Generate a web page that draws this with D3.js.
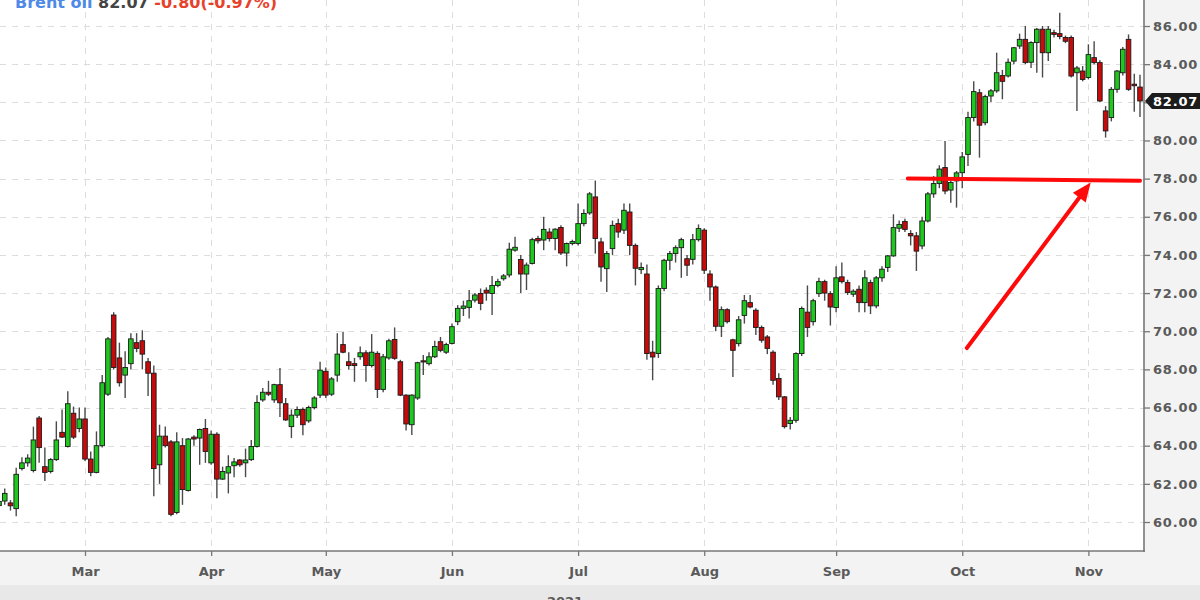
<!DOCTYPE html>
<html>
<head>
<meta charset="utf-8">
<script src="https://cdn.jsdelivr.net/npm/d3@7/dist/d3.min.js"></script>
<style>
  html, body { margin: 0; padding: 0; background: #f3f3f3; }
  svg { display: block; }
  text { font-family: "DejaVu Sans", Verdana, sans-serif; }
</style>
</head>
<body>
<svg id="chart" width="1200" height="600"></svg>
<script>
// ---------------- DATA ----------------
const opens = [
 60.86,61.10,61.00,60.70,62.80,63.10,62.70,65.45,62.90,62.65,63.27,64.70,63.96,65.70,64.90,
 65.40,63.30,62.60,64.00,66.70,70.85,68.60,67.70,68.30,69.40,69.50,68.40,67.80,63.00,64.50,64.20,60.50,64.00,61.65,64.45,64.40,64.90,
 63.10,64.60,62.25,62.57,62.95,63.25,63.10,63.27,63.96,66.40,66.80,66.40,67.20,66.20,65.00,65.60,65.90,65.30,66.00,66.65,
 67.90,66.70,67.70,69.30,68.40,68.30,68.66,68.87,68.20,68.84,66.95,68.60,69.57,68.40,66.65,65.10,66.50,68.45,68.30,68.66,69.45,68.90,
 69.36,70.50,71.20,71.25,71.63,71.98,72.15,71.98,72.40,72.75,72.95,74.25,73.76,73.00,73.55,74.86,74.78,75.20,74.86,75.44,74.10,74.60,
 74.60,75.64,76.20,77.04,74.68,73.28,74.33,75.64,75.30,76.25,74.50,73.23,73.00,68.90,68.83,72.24,73.72,74.07,74.38,73.80,73.77,74.80,
 75.30,73.00,72.32,70.26,71.13,69.55,69.35,70.83,71.50,71.10,70.20,69.70,68.90,67.52,66.56,65.16,65.33,68.83,71.00,70.50,71.97,72.60,71.97,
 71.24,72.85,72.55,71.94,72.20,71.50,72.55,71.33,72.80,73.34,73.95,75.40,75.75,75.12,75.00,74.47,75.78,77.20,77.74,78.58,77.40,77.88,
 78.31,79.27,81.20,82.50,80.93,82.33,82.60,83.40,83.38,84.16,84.95,85.30,84.10,85.13,85.83,84.60,85.65,85.60,85.40,85.40,83.55,83.64,
 83.30,84.34,84.08,81.55,81.20,82.68,83.55,85.30,82.95,82.80
];
const highs = [
 61.70,61.75,61.15,62.85,63.40,63.55,65.00,65.55,63.90,63.35,65.28,65.90,66.85,66.05,66.00,
 66.00,63.70,64.75,67.70,69.70,71.00,69.40,68.95,69.90,69.90,70.05,68.60,68.20,65.10,65.00,64.30,64.70,64.40,64.40,64.55,64.90,65.40,
 64.80,64.70,62.90,63.50,63.35,63.30,63.85,64.30,66.65,67.03,67.40,67.25,68.07,66.50,65.90,66.05,66.00,66.10,66.60,68.40,
 68.10,67.60,69.90,69.97,68.90,68.60,69.20,69.00,69.85,68.95,68.80,69.60,70.20,68.50,66.70,66.70,68.40,68.75,68.90,69.50,69.70,69.40,
 70.40,71.37,71.60,72.16,72.00,72.24,72.30,72.90,72.75,73.00,74.64,74.95,74.00,73.60,74.90,75.00,76.00,75.40,75.40,75.55,74.65,74.80,
 76.70,76.40,77.30,77.90,74.90,74.20,75.80,75.90,76.70,76.70,74.60,73.60,73.50,69.50,72.40,73.80,74.20,74.50,74.90,74.00,75.10,75.60,
 75.40,73.20,72.40,71.30,71.20,69.60,70.80,71.90,71.90,71.20,70.30,69.80,69.00,67.80,66.60,65.50,68.90,71.30,72.40,71.70,72.80,72.70,72.10,
 73.40,73.60,72.70,72.20,72.40,73.20,72.70,72.90,73.40,74.00,76.13,75.80,75.90,75.30,75.20,76.00,77.30,78.14,78.70,79.97,78.00,78.40,
 79.40,81.50,83.10,82.70,82.40,82.70,84.60,83.70,84.30,84.90,85.60,86.00,85.20,85.90,86.00,86.00,85.80,86.70,85.50,85.50,83.90,83.90,
 85.04,85.20,84.20,81.80,82.80,83.70,84.90,85.56,83.50,83.44
];
const lows = [
 60.05,60.90,60.60,60.30,62.70,62.90,62.60,63.10,62.15,62.55,63.20,64.40,63.90,64.35,64.70,
 63.20,62.40,62.55,63.90,66.60,68.00,67.10,66.50,68.00,68.90,68.00,66.60,61.35,62.00,63.90,60.30,60.40,60.90,61.60,64.00,63.00,63.10,
 63.00,61.25,62.20,61.50,62.35,62.90,62.35,63.20,63.90,66.30,66.60,66.25,65.50,65.30,64.40,65.45,64.55,65.20,65.90,66.50,
 66.50,66.60,67.35,68.85,68.00,67.35,68.50,67.35,68.10,66.50,66.80,68.50,68.50,66.60,64.80,64.56,66.40,67.70,68.20,68.60,68.90,68.80,
 69.30,70.32,70.80,70.67,71.50,71.10,71.60,70.85,72.30,72.65,72.82,74.17,72.00,72.16,73.50,74.60,74.25,74.70,74.25,74.00,73.40,74.50,
 74.50,75.50,76.10,74.07,72.60,72.06,74.00,74.90,75.10,74.00,72.40,73.00,68.50,67.43,68.60,72.10,73.20,73.60,72.80,72.90,73.50,74.70,
 73.00,71.60,70.00,69.70,70.40,67.60,69.20,70.40,71.20,69.80,69.40,68.80,67.20,66.40,64.90,64.85,65.20,68.70,69.70,70.30,71.80,71.60,70.30,
 71.00,72.50,71.90,71.80,71.00,71.00,70.90,71.20,72.60,73.10,73.90,75.20,75.20,74.50,73.16,74.30,75.70,77.00,77.50,77.18,76.74,76.48,
 77.50,78.66,81.00,79.10,80.80,82.00,82.50,82.16,83.30,84.00,84.80,84.00,83.80,83.55,83.30,84.17,85.40,85.30,85.10,83.30,81.55,83.10,
 83.20,84.00,82.00,80.15,81.00,82.50,83.40,82.60,81.50,81.23
];
const closes = [
 61.08,61.50,60.85,62.50,63.10,63.35,64.30,63.90,62.60,63.27,64.30,64.45,66.20,64.45,65.40,
 63.30,62.60,64.00,67.30,69.60,68.10,67.30,68.10,69.60,69.10,68.80,67.80,62.80,64.50,64.00,60.40,64.20,61.70,64.35,64.35,64.85,63.70,
 64.60,62.25,62.65,62.90,63.15,63.00,63.25,63.96,66.27,66.80,66.70,67.20,66.25,65.35,65.60,65.90,65.10,66.00,66.50,67.96,
 66.65,67.50,68.80,68.90,68.20,68.20,68.87,68.20,68.90,66.95,68.66,69.50,68.58,66.65,65.14,66.65,68.35,68.40,68.66,69.20,69.00,69.30,
 70.24,71.20,71.32,71.60,71.90,71.46,72.00,72.40,72.60,72.90,74.30,74.40,73.00,73.47,74.80,74.74,75.34,74.86,75.35,74.10,74.60,74.70,
 75.64,76.17,77.20,74.86,73.37,74.07,75.55,75.20,76.34,74.50,73.30,73.34,68.83,68.65,72.24,73.72,74.07,74.38,74.80,73.46,74.80,75.38,
 73.20,72.32,70.26,71.13,70.50,69.00,70.60,71.60,71.27,70.20,69.53,69.10,67.43,66.56,65.00,65.33,68.83,71.19,70.20,71.60,72.60,72.00,71.27,
 72.80,72.60,72.03,72.10,71.50,72.80,71.33,72.80,73.25,73.95,75.43,75.60,75.34,75.00,74.20,75.78,77.20,77.74,78.50,77.35,77.80,78.30,
 79.14,81.20,82.56,80.80,82.30,82.60,83.55,83.10,84.10,84.86,85.30,84.08,85.13,85.83,84.60,85.83,85.56,85.45,85.20,83.38,83.80,83.20,
 84.50,84.08,82.07,80.50,82.68,83.64,84.78,82.68,82.87,82.07
];
const monthLabels = ["Mar","Apr","May","Jun","Jul","Aug","Sep","Oct","Nov"];
const monthStartIndex = [15, 37, 57, 79, 101, 123, 146, 168, 190];
const priceTicks = [60,62,64,66,68,70,72,74,76,78,80,82,84,86];
const yearLabel = "2021";
const titleName = "Brent oil";
const titleLast = "82.07";
const titleChange = "-0.80(-0.97%)";
// hand-drawn annotation (index / price coordinates)
const supportLine = [{i: 158.5, v: 78.01}, {i: 199, v: 77.89}];
const arrowLine = [{i: 168.8, v: 69.12}, {i: 190.4, v: 77.80}];

// ---------------- LAYOUT ----------------
const W = 1200, H = 600;
const plotRight = 1144, plotBottom = 551;
const svg = d3.select("#chart");

const x = d3.scaleLinear().domain([0, opens.length - 1]).range([-1, 1140]);
const y = d3.scaleLinear().domain([60, 86]).range([522, 26]);

const candles = opens.map((o, i) => ({i, o, h: highs[i], l: lows[i], c: closes[i]}));

// backgrounds
svg.append("rect").attr("x", 0).attr("y", 0).attr("width", W).attr("height", H).attr("fill", "#f3f3f3");
svg.append("rect").attr("x", 0).attr("y", 585).attr("width", W).attr("height", 15).attr("fill", "#e8e8e8");
svg.append("rect").attr("x", 0).attr("y", 0).attr("width", plotRight).attr("height", plotBottom).attr("fill", "#ffffff");

svg.append("defs").append("clipPath").attr("id", "plotclip")
  .append("rect").attr("x", 0).attr("y", 0).attr("width", plotRight).attr("height", plotBottom);

// grid
const grid = svg.append("g").attr("clip-path", "url(#plotclip)");
grid.selectAll("line.h").data(priceTicks).join("line")
  .attr("x1", 0).attr("x2", plotRight)
  .attr("y1", d => Math.round(y(d)) + 0.5).attr("y2", d => Math.round(y(d)) + 0.5)
  .attr("stroke", "#dddddd").attr("stroke-width", 1).attr("stroke-dasharray", "6,6");
grid.selectAll("line.v").data(monthStartIndex).join("line")
  .attr("x1", d => Math.round(x(d)) + 0.5).attr("x2", d => Math.round(x(d)) + 0.5)
  .attr("y1", 0).attr("y2", plotBottom)
  .attr("stroke", "#dddddd").attr("stroke-width", 1).attr("stroke-dasharray", "6,6");

// candles
const cg = svg.append("g").attr("clip-path", "url(#plotclip)");
cg.selectAll("line.wick").data(candles).join("line")
  .attr("x1", d => x(d.i)).attr("x2", d => x(d.i))
  .attr("y1", d => y(d.h)).attr("y2", d => y(d.l))
  .attr("stroke", "#4a4a4a").attr("stroke-width", 1.4);
cg.selectAll("rect.body").data(candles).join("rect")
  .attr("x", d => x(d.i) - 2.3)
  .attr("width", 4.6)
  .attr("y", d => y(Math.max(d.o, d.c)))
  .attr("height", d => Math.max(1.2, Math.abs(y(d.o) - y(d.c))))
  .attr("fill", d => d.c >= d.o ? "#1ec81e" : "#c80a0a")
  .attr("stroke", "#1a1a1a").attr("stroke-width", 0.9);

// annotation in red
const ag = svg.append("g");
ag.append("line")
  .attr("x1", x(supportLine[0].i)).attr("y1", y(supportLine[0].v))
  .attr("x2", x(supportLine[1].i)).attr("y2", y(supportLine[1].v))
  .attr("stroke", "#ff0a0a").attr("stroke-width", 4).attr("stroke-linecap", "round");
(function () {
  const x0 = x(arrowLine[0].i), y0 = y(arrowLine[0].v);
  const x1 = x(arrowLine[1].i), y1 = y(arrowLine[1].v);
  const dx = x1 - x0, dy = y1 - y0, len = Math.hypot(dx, dy);
  const ux = dx / len, uy = dy / len;
  const headLen = 19, headW = 8;
  const bx = x1 - ux * headLen, by = y1 - uy * headLen;
  ag.append("line").attr("x1", x0).attr("y1", y0).attr("x2", bx + ux * 2).attr("y2", by + uy * 2)
    .attr("stroke", "#ff0a0a").attr("stroke-width", 4).attr("stroke-linecap", "round");
  ag.append("polygon")
    .attr("points", [[x1, y1], [bx - uy * headW, by + ux * headW], [bx + uy * headW, by - ux * headW]].map(p => p.join(",")).join(" "))
    .attr("fill", "#ff0a0a");
})();

// axes frame lines
svg.append("line").attr("x1", plotRight).attr("x2", plotRight).attr("y1", 0).attr("y2", plotBottom + 1)
  .attr("stroke", "#777").attr("stroke-width", 1.6);
svg.append("line").attr("x1", 0).attr("x2", plotRight + 0.8).attr("y1", plotBottom).attr("y2", plotBottom)
  .attr("stroke", "#777").attr("stroke-width", 1.6);

// right price axis
const yAxis = svg.append("g").attr("transform", `translate(${plotRight},0)`)
  .call(d3.axisRight(y).tickValues(priceTicks).tickFormat(d3.format(".2f")).tickSize(6).tickPadding(3));
yAxis.select(".domain").remove();
yAxis.selectAll(".tick line").attr("stroke", "#777").attr("stroke-width", 1.3);
yAxis.selectAll(".tick text").attr("fill", "#5a5a5a").style("font-size", "13px")
  .style("font-weight", "bold").style("letter-spacing", "0.8px");

// bottom month axis
const xAxis = svg.append("g").attr("transform", `translate(0,${plotBottom})`)
  .call(d3.axisBottom(x).tickValues(monthStartIndex).tickFormat((d, k) => monthLabels[k]).tickSize(5).tickPadding(11));
xAxis.select(".domain").remove();
xAxis.selectAll(".tick line").attr("stroke", "#777").attr("stroke-width", 1.3);
xAxis.selectAll(".tick text").attr("fill", "#5a5a5a").style("font-size", "13px")
  .style("font-weight", "bold");

svg.append("text").attr("x", 565).attr("y", 606).attr("text-anchor", "middle")
  .attr("fill", "#5a5a5a").style("font-size", "13px").style("font-weight", "bold").text(yearLabel);

// last price tag
const lastClose = closes[closes.length - 1];
const ty = y(lastClose);
svg.append("polygon")
  .attr("points", [[plotRight + 1, ty], [plotRight + 8, ty - 8], [W, ty - 8], [W, ty + 8], [plotRight + 8, ty + 8]].map(p => p.join(",")).join(" "))
  .attr("fill", "#1c1c1c");
svg.append("text").attr("x", plotRight + 9).attr("y", ty + 4.8)
  .attr("fill", "#ffffff").style("font-size", "13px").style("font-weight", "bold")
  .style("letter-spacing", "0.8px").text(d3.format(".2f")(lastClose));

// title (cut at the top, as in the reference)
const title = svg.append("text").attr("x", 15).attr("y", 8)
  .style("font-size", "16px").style("font-weight", "bold").style("white-space", "pre");
title.append("tspan").attr("fill", "#4f8ae8").text(titleName);
title.append("tspan").attr("fill", "#444").text(" " + titleLast);
title.append("tspan").attr("fill", "#e8412b").text(" " + titleChange);
</script>
</body>
</html>
